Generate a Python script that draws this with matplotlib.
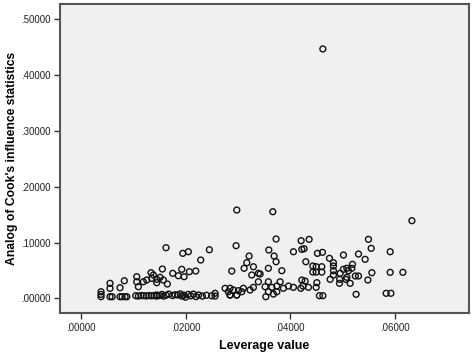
import matplotlib
matplotlib.use('Agg')
import matplotlib.pyplot as plt
from matplotlib.ticker import FuncFormatter

plt.rcParams['font.family'] = ['Liberation Sans', 'DejaVu Sans']

# leverage value (x) and Cook's-analog statistic (y)
leverage = [
    0.00388, 0.00388, 0.00388, 0.00559, 0.00559, 0.00559, 0.00600, 0.00750, 0.00750, 0.00790,
    0.00832, 0.00846, 0.00880, 0.01069, 0.01069, 0.01100, 0.01195, 0.01260, 0.01342, 0.01355,
    0.01050, 0.01100, 0.01150, 0.01200, 0.01250, 0.01300, 0.01350, 0.01400, 0.01450,
    0.01628, 0.01947, 0.02054, 0.02455, 0.02290, 0.01558, 0.01756, 0.01863, 0.01928, 0.01972,
    0.02073, 0.02195, 0.01386, 0.01451, 0.01514, 0.01577, 0.01653, 0.01451,
    0.01450, 0.01500, 0.01550, 0.01580, 0.01630, 0.01680, 0.01750, 0.01800, 0.01850, 0.01900,
    0.01930, 0.01970, 0.02000, 0.02050, 0.02100, 0.02150, 0.02200, 0.02250, 0.02320, 0.02400,
    0.02500, 0.02564, 0.02564, 0.02755,
    0.02978, 0.03665, 0.02965, 0.03728, 0.04059, 0.03589, 0.03690, 0.03728, 0.03213, 0.03169,
    0.03295, 0.03118, 0.02882, 0.03581, 0.03837, 0.03390, 0.03423, 0.03264,
    0.03390, 0.03581, 0.03805,
    0.02850, 0.02913, 0.03009, 0.03104, 0.03232, 0.03295, 0.03518, 0.03646, 0.03742, 0.03868,
    0.03964, 0.04059,
    0.02850, 0.02978, 0.03073, 0.02818, 0.03581, 0.03677, 0.03742, 0.03532, 0.02849, 0.02976,
    0.04358, 0.04206, 0.04263, 0.04219, 0.04517, 0.04612, 0.05013, 0.05300, 0.05490, 0.05542,
    0.04295, 0.04746, 0.04822, 0.04822, 0.04822, 0.04822, 0.04429, 0.04492, 0.04600, 0.04429,
    0.04492, 0.04600, 0.05013, 0.05078, 0.05109, 0.05185, 0.05173, 0.04950, 0.05240, 0.05300,
    0.05427, 0.05555, 0.05479, 0.05078, 0.05060, 0.04940, 0.04759, 0.04219, 0.04282, 0.04240,
    0.04345, 0.04505, 0.04492, 0.04937, 0.05141, 0.05255, 0.04555, 0.04620, 0.04200,
    0.06319, 0.05905, 0.05905, 0.06147, 0.05828, 0.05918,
    0.04620,
]
cooks = [
    0.0118, 0.0029, 0.0070, 0.0269, 0.0179, 0.0029, 0.0029, 0.0190, 0.0029, 0.0029,
    0.0315, 0.0029, 0.0029, 0.0387, 0.0297, 0.0208, 0.0297, 0.0328, 0.0459, 0.0358,
    0.0047, 0.0040, 0.0050, 0.0047, 0.0042, 0.0050, 0.0045, 0.0050, 0.0040,
    0.0907, 0.0806, 0.0835, 0.0871, 0.0686, 0.0525, 0.0448, 0.0405, 0.0520, 0.0387,
    0.0477, 0.0489, 0.0418, 0.0340, 0.0376, 0.0328, 0.0256, 0.0280,
    0.0060, 0.0050, 0.0070, 0.0040, 0.0055, 0.0075, 0.0050, 0.0065, 0.0060, 0.0080,
    0.0040, 0.0055, 0.0020, 0.0070, 0.0045, 0.0075, 0.0030, 0.0060, 0.0040, 0.0055,
    0.0045, 0.0090, 0.0040, 0.0179,
    0.1582, 0.1552, 0.0943, 0.1063, 0.0835, 0.0866, 0.0758, 0.0656, 0.0758, 0.0638,
    0.0566, 0.0538, 0.0489, 0.0538, 0.0495, 0.0448, 0.0436, 0.0418,
    0.0297, 0.0297, 0.0297,
    0.0180, 0.0149, 0.0137, 0.0180, 0.0149, 0.0197, 0.0208, 0.0197, 0.0220, 0.0180,
    0.0220, 0.0197,
    0.0059, 0.0059, 0.0118, 0.0118, 0.0118, 0.0077, 0.0118, 0.0029, 0.0060, 0.0060,
    0.1057, 0.1032, 0.0889, 0.0878, 0.0806, 0.0824, 0.0776, 0.0794, 0.1057, 0.0896,
    0.0656, 0.0717, 0.0638, 0.0579, 0.0495, 0.0418, 0.0579, 0.0567, 0.0567, 0.0470,
    0.0470, 0.0470, 0.0520, 0.0538, 0.0495, 0.0609, 0.0538, 0.0448, 0.0400, 0.0400,
    0.0699, 0.0459, 0.0328, 0.0376, 0.0340, 0.0340, 0.0340, 0.0328, 0.0310, 0.0220,
    0.0197, 0.0280, 0.0197, 0.0269, 0.0269, 0.0072, 0.0047, 0.0047, 0.0180,
    0.1391, 0.0835, 0.0466, 0.0466, 0.0090, 0.0090,
    0.4468,
]

x_ticks = [0.0, 0.02, 0.04, 0.06]
y_ticks = [0.0, 0.1, 0.2, 0.3, 0.4, 0.5]

fig = plt.figure(figsize=(4.74, 3.61), dpi=100)
ax = fig.add_axes([0.1266, 0.132, 0.863, 0.857])
ax.set_facecolor('#f0f0f0')

ax.scatter(leverage, cooks, s=18, facecolors='none', edgecolors='#111111', linewidths=1.0)

ax.set_xlim(-0.00395, 0.0741)
ax.set_ylim(-0.0269, 0.5274)
ax.set_xticks(x_ticks)
ax.set_yticks(y_ticks)

fmt = FuncFormatter(lambda v, p: f"{v:.5f}".lstrip('0'))
ax.xaxis.set_major_formatter(fmt)
ax.yaxis.set_major_formatter(fmt)
ax.tick_params(direction='out', length=4, width=1, color='#333333',
               labelsize=7, labelcolor='#222222', pad=3)

for s in ax.spines.values():
    s.set_color('#555555')
    s.set_linewidth(1.5)

ax.set_xlabel('Leverage value', fontsize=9, fontweight='bold', labelpad=5)
ax.set_ylabel("Analog of Cook's influence statistics", fontsize=8.7, fontweight='bold', labelpad=2)

fig.savefig('out.png', dpi=100)
